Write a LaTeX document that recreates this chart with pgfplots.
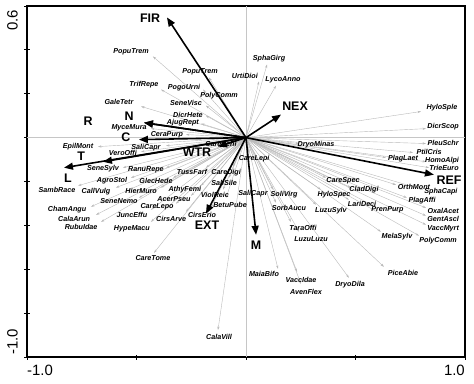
\documentclass[border=0pt]{standalone}
\usepackage{pgfplots}
\pgfplotsset{compat=1.18}
\usepackage{pgfplotstable}
\usepackage{fontspec}
\setmainfont{Liberation Sans}
\usetikzlibrary{arrows.meta}

\pgfplotstableread{
x y lx ly name
-0.425 0.370 -0.525 0.393 PopuTrem
-0.169 0.274 -0.210 0.301 PopuTrem
-0.388 0.219 -0.466 0.242 TrifRepe
-0.196 0.219 -0.283 0.228 PogoUrni
-0.137 0.210 -0.123 0.192 PolyComm
-0.183 0.146 -0.274 0.160 SeneVisc
-0.183 0.100 -0.265 0.105 DicrHete
-0.205 0.064 -0.288 0.068 AjugRept
-0.479 0.142 -0.580 0.164 GaleTetr
-0.434 0.041 -0.534 0.046 MyceMura
-0.274 0.014 -0.361 0.014 CeraPurp
0.096 0.333 0.105 0.361 SphaGirg
0.059 0.256 -0.005 0.279 UrtiDioi
0.137 0.237 0.169 0.265 LycoAnno
0.799 0.119 0.895 0.137 HyloSple
0.822 0.041 0.900 0.050 DicrScop
0.242 -0.027 0.320 -0.032 DryoMinas
0.822 -0.027 0.900 -0.023 PleuSchr
0.763 -0.068 0.836 -0.064 PtilCris
0.639 -0.091 0.717 -0.096 PlagLaet
0.822 -0.110 0.895 -0.105 HomoAlpi
0.836 -0.137 0.904 -0.137 TrieEuro
0.365 -0.183 0.443 -0.196 CareSpec
0.685 -0.215 0.767 -0.224 OrthMont
0.808 -0.237 0.890 -0.247 SphaCapi
0.342 -0.237 0.402 -0.260 HyloSpec
0.479 -0.228 0.539 -0.237 CladDigi
0.470 -0.283 0.530 -0.304 LariDeci
0.735 -0.274 0.804 -0.288 PlagAffi
0.571 -0.306 0.646 -0.328 PrenPurp
0.320 -0.306 0.388 -0.333 LuzuSylv
0.822 -0.320 0.900 -0.333 OxalAcet
0.822 -0.356 0.900 -0.370 GentAscl
0.822 -0.397 0.900 -0.416 VaccMyrt
0.616 -0.429 0.689 -0.452 MelaSylv
0.790 -0.447 0.877 -0.470 PolyComm
0.630 -0.589 0.717 -0.616 PiceAbie
0.470 -0.639 0.475 -0.671 DryoDila
0.251 -0.667 0.274 -0.703 AvenFlex
0.233 -0.612 0.251 -0.648 VaccIdae
0.146 -0.598 0.082 -0.621 MaiaBifo
0.205 -0.384 0.260 -0.411 TaraOffi
0.242 -0.429 0.297 -0.461 LuzuLuzu
0.137 -0.297 0.196 -0.320 SorbAucu
0.123 -0.237 0.174 -0.260 SoliVirg
0.023 -0.228 0.032 -0.256 SaliCapr
0.014 -0.068 0.037 -0.096 CareLepi
-0.091 -0.274 -0.073 -0.306 BetuPube
-0.105 -0.237 -0.142 -0.260 ViolReic
-0.078 -0.183 -0.100 -0.205 SaliSile
-0.059 -0.132 -0.091 -0.160 CareDigi
-0.183 -0.137 -0.247 -0.155 TussFarf
-0.091 -0.027 -0.114 -0.027 CareEchi
-0.160 -0.320 -0.201 -0.352 CirsErio
-0.274 -0.338 -0.342 -0.370 CirsArve
-0.251 -0.265 -0.329 -0.279 AcerPseu
-0.205 -0.219 -0.279 -0.237 AthyFemi
-0.320 -0.301 -0.406 -0.315 CareLepo
-0.434 -0.384 -0.521 -0.416 HypeMacu
-0.434 -0.329 -0.521 -0.352 JuncEffu
-0.662 -0.384 -0.753 -0.406 RubuIdae
-0.685 -0.352 -0.785 -0.370 CalaArun
-0.708 -0.315 -0.817 -0.329 ChamAngu
-0.489 -0.274 -0.580 -0.288 SeneNemo
-0.388 -0.228 -0.479 -0.242 HierMuro
-0.594 -0.228 -0.685 -0.247 CallVulg
-0.767 -0.219 -0.863 -0.237 SambRace
-0.525 -0.183 -0.612 -0.196 AgroStol
-0.333 -0.183 -0.411 -0.196 GlecHede
-0.365 -0.137 -0.457 -0.146 RanuRepe
-0.562 -0.137 -0.653 -0.142 SeneSylv
-0.479 -0.064 -0.562 -0.068 VeroOffi
-0.676 -0.041 -0.767 -0.041 EpilMont
-0.365 -0.037 -0.457 -0.046 SaliCapr
-0.128 -0.877 -0.123 -0.909 CalaVill
-0.420 -0.525 -0.425 -0.548 CareTome
}\species

\pgfplotstableread{
x y lx ly name
-0.361 0.548 -0.438 0.543 FIR
0.160 0.105 0.224 0.142 NEX
0.858 -0.169 0.927 -0.192 REF
0.046 -0.443 0.046 -0.489 M
-0.183 -0.347 -0.178 -0.397 EXT
-0.128 -0.041 -0.224 -0.068 WTR
-0.489 -0.009 -0.548 0.000 C
-0.466 0.068 -0.534 0.096 N
-0.466 0.068 -0.721 0.073 R
-0.653 -0.110 -0.753 -0.087 T
-0.831 -0.137 -0.813 -0.187 L
}\env

\begin{document}
\begin{tikzpicture}
\begin{axis}[
  scale only axis, width=438bp, height=351bp,
  xmin=-1, xmax=1, ymin=-1, ymax=0.6,
  axis line style={line width=1.5pt},
  xtick={-1,-0.5,0,0.5,1},
  ytick={-1,-0.8,-0.6,-0.4,-0.2,0,0.2,0.4,0.6},
  xticklabels={}, yticklabels={},
  tick align=center, major tick length=5bp,
  tick style={line width=1pt, black},
  xtick pos=bottom, ytick pos=left,
  clip=false,
]
\addplot[gray!45, line width=0.6pt, forget plot] coordinates {(0,-1) (0,0.6)};
\addplot[gray!45, line width=0.6pt, forget plot] coordinates {(-1,0) (1,0)};

% species arrows
\addplot[gray!55, line width=0.4pt, -{Stealth[length=3.5pt,width=2.2pt]},
  quiver={u=\thisrow{x}, v=\thisrow{y}}]
  table[x expr=0, y expr=0] {\species};

% environmental arrows
\addplot[black, line width=1.6pt, -{Triangle[length=9pt,width=7pt]},
  quiver={u=\thisrow{x}, v=\thisrow{y}}]
  table[x expr=0, y expr=0] {\env};

% species labels
\addplot[only marks, mark=none, nodes near coords, point meta=explicit symbolic,
  nodes near coords style={anchor=center, inner sep=0pt, text=black,
    font=\fontsize{7.2}{8}\selectfont\bfseries\itshape}]
  table[x=lx, y=ly, meta=name] {\species};

% env labels
\addplot[only marks, mark=none, nodes near coords, point meta=explicit symbolic,
  nodes near coords style={anchor=center, inner sep=0pt, text=black,
    font=\fontsize{12.5}{14}\selectfont\bfseries}]
  table[x=lx, y=ly, meta=name] {\env};

\coordinate (sw) at (rel axis cs:0,0);
\coordinate (ne) at (rel axis cs:1,1);
\node[anchor=north west, inner sep=0pt, font=\fontsize{15}{17}\selectfont] at ([yshift=-8bp]rel axis cs:0,0) {-1.0};
\node[anchor=north east, inner sep=0pt, font=\fontsize{15}{17}\selectfont] at ([yshift=-8bp]rel axis cs:1,0) {1.0};
\node[rotate=90, anchor=south east, inner sep=0pt, font=\fontsize{15}{17}\selectfont] at ([xshift=-9bp,yshift=-4bp]rel axis cs:0,1) {0.6};
\node[rotate=90, anchor=south west, inner sep=0pt, font=\fontsize{15}{17}\selectfont] at ([xshift=-9bp,yshift=2bp]rel axis cs:0,0) {-1.0};
\end{axis}
\path[use as bounding box] ([xshift=-27bp,yshift=-27bp]sw) rectangle ([xshift=9bp,yshift=6bp]ne);
\end{tikzpicture}
\end{document}
